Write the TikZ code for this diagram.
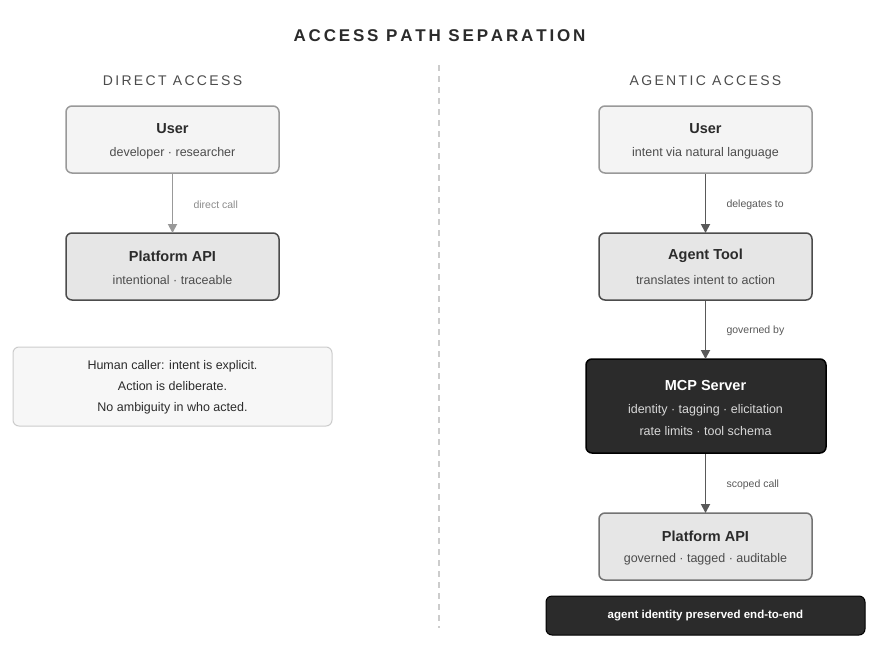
\documentclass[tikz,border=0pt]{standalone}
\usepackage{fontspec}
\setmainfont{Liberation Sans}
\usetikzlibrary{arrows.meta}
\definecolor{dk}{HTML}{2B2B2B}
\definecolor{lt}{HTML}{F4F4F4}
\definecolor{md}{HTML}{E6E6E6}
\begin{document}
\begin{tikzpicture}[x=1pt,y=-1pt,
  box/.style={draw=#1,rounded corners=6pt,line width=1.5pt,inner sep=0pt},
  ttl/.style={font=\bfseries\fontsize{14.5}{17}\selectfont,text=dk},
  sub/.style={font=\fontsize{12.5}{15}\selectfont,text=black!70},
  lbl/.style={font=\fontsize{10.5}{12}\selectfont,anchor=west},
  arr/.style={line width=1.8pt,-{Triangle[length=9pt,width=9pt]}}]
\useasboundingbox (0,0) rectangle (879,651);
\fill[white] (0,0) rectangle (879,651);
\node[font=\bfseries\fontsize{17}{20}\selectfont,text=dk] (title) at (439.5,36) {A\,C\,C\,E\,S\,S\, P\,A\,T\,H\, S\,E\,P\,A\,R\,A\,T\,I\,O\,N};
\coordinate (dt) at (439,65); \coordinate (db) at (439,628);
\draw[black!20,line width=1.5pt,dash pattern=on 6pt off 5pt] (dt) -- (db);
\node[font=\fontsize{14}{16}\selectfont,text=black!70] (h1) at (172.5,81) {D\,I\,R\,E\,C\,T\, A\,C\,C\,E\,S\,S};
\node[font=\fontsize{14}{16}\selectfont,text=black!70] (h2) at (705.5,81) {A\,G\,E\,N\,T\,I\,C\, A\,C\,C\,E\,S\,S};
% left
\draw[box=black!40,fill=lt] (66,106) rectangle (279,173);
\node[ttl] (u1) at (172.5,129) {User};
\node[sub] at (172.5,153) {developer · researcher};
\coordinate (u1b) at (172.5,174);
\draw[box=black!70,fill=md] (66,233) rectangle (279,300);
\node[ttl] (p1) at (172.5,256) {Platform API};
\node[sub] at (172.5,280) {intentional · traceable};
\coordinate (p1t) at (172.5,233);
\draw[arr,black!40] (u1b) -- (p1t);
\node[lbl,text=black!45] at (190,205) {direct call};
\draw[draw=black!20,fill=black!3,rounded corners=6pt,line width=1pt] (13,347) rectangle (332,426);
\node[font=\fontsize{12.5}{21}\selectfont,align=center,text=dk] (note) at (172.5,387) {Human caller: intent is explicit.\\Action is deliberate.\\No ambiguity in who acted.};
% right
\draw[box=black!40,fill=lt] (599,106) rectangle (812,173);
\node[ttl] at (705.5,129) {User};
\node[sub] at (705.5,153) {intent via natural language};
\coordinate (u2b) at (705.5,174);
\draw[box=black!70,fill=md] (599,233) rectangle (812,300);
\node[ttl] at (705.5,256) {Agent Tool};
\node[sub] at (705.5,280) {translates intent to action};
\coordinate (a2t) at (705.5,233); \coordinate (a2b) at (705.5,301);
\draw[box=black,fill=dk] (586,359) rectangle (826,453);
\node[ttl,text=white] at (705.5,386) {MCP Server};
\node[sub,text=black!15] at (705.5,410) {identity · tagging · elicitation};
\node[sub,text=black!15] at (705.5,431) {rate limits · tool schema};
\coordinate (m2t) at (705.5,359); \coordinate (m2b) at (705.5,454);
\draw[box=black!55,fill=md] (599,513) rectangle (812,580);
\node[ttl] at (705.5,536) {Platform API};
\node[sub] at (705.5,559) {governed · tagged · auditable};
\coordinate (p2t) at (705.5,513);
\draw[arr,black!65] (u2b) -- (a2t);
\draw[arr,black!65] (a2b) -- (m2t);
\draw[arr,black!65] (m2b) -- (p2t);
\node[lbl,text=black!65] at (723,205) {delegates to};
\node[lbl,text=black!65] at (723,331) {governed by};
\node[lbl,text=black!65] at (723,485) {scoped call};
\draw[fill=dk,draw=black,rounded corners=6pt,line width=1pt] (546,596) rectangle (865,635);
\node[font=\bfseries\fontsize{11.5}{14}\selectfont,text=white] (ban) at (705.5,616) {agent identity preserved end-to-end};
\end{tikzpicture}
\end{document}
